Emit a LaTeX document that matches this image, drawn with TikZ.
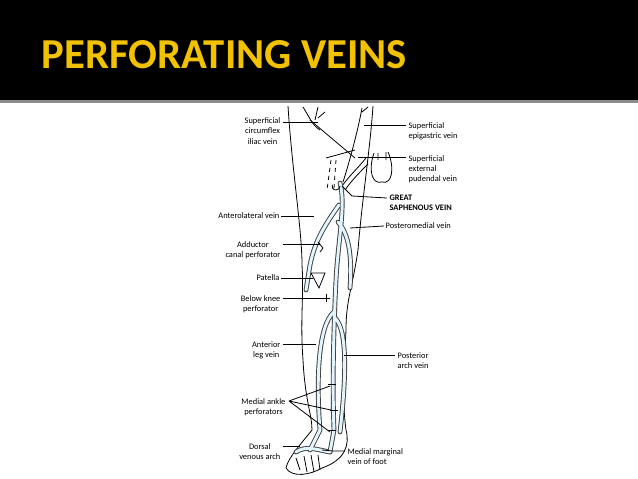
\documentclass[tikz,border=0pt]{standalone}
\usepackage{fontspec}
\setmainfont{Carlito}
\definecolor{titlegold}{HTML}{F2C200}
\begin{document}
\begin{tikzpicture}[x=0.75pt,y=-0.75pt,
  lbl/.style={font=\fontsize{6.3}{7.6}\selectfont,inner sep=1pt,align=center},
  ptr/.style={black,line width=0.6pt},
  outl/.style={black,line width=0.6pt},
  veinout/.style={black!75,line width=3.6pt,line cap=round,line join=round},
  veinin/.style={cyan!12,line width=2.2pt,line cap=round,line join=round}]
\useasboundingbox (0,0) rectangle (638,478);
\fill[black] (0,0) rectangle (638,100);
\fill[black!45] (0,100) rectangle (638,103);
\node[anchor=west,text=titlegold,font=\fontsize{32}{38}\selectfont\bfseries] (title) at (37,55) {PERFORATING VEINS};
% leg outline
\draw[outl] (288,106) .. controls (292,170) and (302,230) .. (302,265) .. controls (304,295) and (300,320) .. (303,360) .. controls (305,400) and (312,415) .. (312,430) .. controls (300,445) and (288,458) .. (286,468) .. controls (292,478) and (310,475) .. (322,468);
\draw[outl] (373,106) .. controls (370,150) and (362,200) .. (358,250) .. controls (352,290) and (346,300) .. (346,330) .. controls (344,370) and (342,400) .. (346,430) .. controls (350,445) and (345,460) .. (322,468);
\draw[outl] (296,458) -- (300,470) (304,456) -- (307,472) (311,455) -- (314,472) (318,455) -- (320,470);
% genitals and patella
\draw[outl] (374,153) .. controls (368,170) and (372,185) .. (382,182) .. controls (392,185) and (395,168) .. (388,152) (378,153) -- (378,160) (386,152) -- (386,160);
\draw[outl] (311,273) -- (325,273) -- (319,288) -- cycle;
% inguinal region
\draw[outl] (310,120) -- (355,158) (326,158) -- (355,150);
\draw[outl,dashed] (331,160) -- (327,190) (336,160) -- (334,188);
\draw[outl] (303,107) .. controls (310,118) and (312,125) .. (320,130) (318,107) -- (315,120) (318,118) -- (325,112);
% small veins
\draw[outl] (343,182) .. controls (350,160) and (358,130) .. (362,108) (362,112) -- (368,107);
\draw[outl] (342,186) .. controls (350,175) and (358,168) .. (366,158);
\draw[outl] (345,190) .. controls (352,180) and (360,172) .. (368,164);
% veins with lumen
\foreach \s in {veinout,veinin}{
 \draw[\s] (340,183) .. controls (346,205) and (338,240) .. (336,280) .. controls (334,320) and (332,380) .. (334,430) -- (330,452);
 \draw[\s] (339,205) .. controls (325,225) and (315,240) .. (310,265) -- (306,290);
 \draw[\s] (338,222) .. controls (350,235) and (352,260) .. (350,288);
 \draw[\s] (334,312) .. controls (318,325) and (316,380) .. (320,430) -- (310,450);
 \draw[\s] (335,318) .. controls (348,330) and (346,380) .. (340,432);
 \draw[\s] (330,452) .. controls (318,450) and (306,445) .. (296,452);
}
\draw[outl] (340,186) arc (0:200:4);
\draw[outl] (323,248) -- (318,242) (323,248) -- (320,252);
\draw[outl] (320,298) -- (330,298) (326,294) -- (326,302);
\draw[outl] (328,384) -- (336,384) (330,410) -- (338,410) (328,430) -- (336,430);
% left labels
\node[lbl,anchor=east] (l1) at (282,131) {Superficial\\circumflex\\iliac vein};
\coordinate (t1) at (318,122); \draw[ptr] (283,122) -- (t1);
\node[lbl,anchor=east] (l2) at (281,216) {Anterolateral vein};
\coordinate (t2) at (314,216); \draw[ptr] (l2.east) -- (t2);
\node[lbl,anchor=east] (l3) at (282,250) {Adductor\\canal perforator};
\coordinate (t3) at (320,244); \draw[ptr] (283,244) -- (t3);
\node[lbl,anchor=east] (l4) at (281,278) {Patella};
\coordinate (t4) at (313,278); \draw[ptr] (l4.east) -- (t4);
\node[lbl,anchor=east] (l5) at (282,304) {Below knee\\perforator};
\coordinate (t5) at (326,298); \draw[ptr] (283,298) -- (t5);
\node[lbl,anchor=east] (l6) at (282,350) {Anterior\\leg vein};
\coordinate (t6) at (316,344); \draw[ptr] (283,344) -- (t6);
\node[lbl,anchor=east] (l7) at (287,407) {Medial ankle\\perforators};
\coordinate (t7a) at (330,386); \coordinate (t7b) at (331,410); \coordinate (t7c) at (330,432);
\draw[ptr] (289,401) -- (t7a) (289,401) -- (t7b) (289,401) -- (t7c);
\node[lbl,anchor=east] (l8) at (282,452) {Dorsal\\venous arch};
\coordinate (t8) at (300,446); \draw[ptr] (283,446) -- (t8);
% right labels
\node[lbl,anchor=west,align=left] (r1) at (407,131) {Superficial\\epigastric vein};
\coordinate (s1) at (364,125); \draw[ptr] (406,125) -- (s1);
\node[lbl,anchor=west,align=left] (r2) at (407,169) {Superficial\\external\\pudendal vein};
\coordinate (s2) at (358,157); \draw[ptr] (406,157) -- (s2);
\node[lbl,anchor=west,align=left,font=\fontsize{6.3}{7.6}\selectfont\bfseries] (r3) at (388,203) {GREAT\\SAPHENOUS VEIN};
\coordinate (s3) at (342,186); \draw[ptr] (s3) -- (352,196) -- (387,198);
\node[lbl,anchor=west] (r4) at (384,226) {Posteromedial vein};
\coordinate (s4) at (350,228); \draw[ptr] (r4.west) -- (s4);
\node[lbl,anchor=west,align=left] (r5) at (396,361) {Posterior\\arch vein};
\coordinate (s5) at (344,355); \draw[ptr] (395,355) -- (s5);
\node[lbl,anchor=west,align=left] (r6) at (346,457) {Medial marginal\\vein of foot};
\coordinate (s6) at (322,450); \draw[ptr] (345,451) -- (333,451) -- (s6);
\end{tikzpicture}
\end{document}
